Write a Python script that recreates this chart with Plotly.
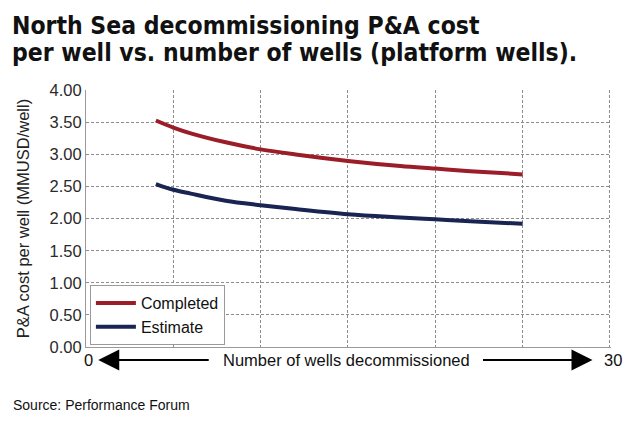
import plotly.graph_objects as go

# data
wells = [4, 5, 6, 8, 10, 12, 15, 18, 20, 22, 25]
completed = [3.53, 3.42, 3.33, 3.19, 3.08, 3.00, 2.90, 2.82, 2.78, 2.74, 2.69]
estimate = [2.54, 2.45, 2.39, 2.28, 2.21, 2.15, 2.07, 2.02, 1.99, 1.96, 1.92]

y_ticks = [0, 0.5, 1.0, 1.5, 2.0, 2.5, 3.0, 3.5, 4.0]
x_ticks = [0, 5, 10, 15, 20, 25, 30]

RED = '#9a1d27'
NAVY = '#1a2452'
FONT = 'Liberation Sans, Arial, sans-serif'
TITLE_FONT = 'DejaVu Sans Condensed, Liberation Sans Narrow, sans-serif'

# page is drawn with the default 8px body margin and only ~624px of the
# width is visible, so reference x positions are squeezed to fit that
OFF = 8
VIS = 624
S = VIS / 640
W, H = VIS - OFF, 407
# plot area in page pixels (used to place the free texts)
L, R, T, B = 88 * S, 627 * S, 90, 347


def px(x):
    return (x * S - L) / (R - L)


def py(y):
    return (B - y) / (B - T)


fig = go.Figure()

fig.add_trace(go.Scatter(
    x=wells, y=completed, mode='lines', name='Completed',
    line=dict(color=RED, width=4, shape='spline')
))
fig.add_trace(go.Scatter(
    x=wells, y=estimate, mode='lines', name='Estimate',
    line=dict(color=NAVY, width=4, shape='spline')
))

grid = dict(showgrid=True, gridcolor='#8c8c8c', griddash='3px,2px', gridwidth=1,
            showline=True, linecolor='#9a9a9a', linewidth=1, zeroline=False,
            ticks='', automargin=False)

# range a hair past 30 so the dashed gridline at 30 closes the right edge
fig.update_xaxes(range=[0, 30.06], tickvals=x_ticks, showticklabels=False, **grid)
fig.update_yaxes(
    range=[0, 4.005], tickvals=y_ticks, tickformat='.2f',
    tickfont=dict(family=FONT, size=16.5, color='#2a2a2a'),
    title=dict(text='P&A cost per well (MMUSD/well)', standoff=15,
               font=dict(family=FONT, size=16.5, color='#222222')),
    **grid
)

# axis labels and arrows under the plot
axis_font = dict(family=FONT, size=16.5, color='#111111')
fig.add_annotation(x=px(84), y=py(360), xref='paper', yref='paper', text='0',
                   xanchor='left', yanchor='middle', showarrow=False, font=axis_font)
fig.add_annotation(x=px(618), y=py(360), xref='paper', yref='paper', text='30',
                   xanchor='left', yanchor='middle', showarrow=False, font=axis_font)
fig.add_annotation(x=14.9, y=py(360), xref='x', yref='paper', text='Number of wells decommissioned',
                   xanchor='center', yanchor='middle', showarrow=False, font=axis_font)

fig.add_annotation(x=0.7, y=py(360), xref='x', yref='paper', text='', showarrow=True,
                   ax=112, ay=0, arrowhead=2, arrowsize=2.1, arrowwidth=2, arrowcolor='#000000')
fig.add_annotation(x=29.0, y=py(360), xref='x', yref='paper', text='', showarrow=True,
                   ax=-111, ay=0, arrowhead=2, arrowsize=2.1, arrowwidth=2, arrowcolor='#000000')

fig.add_annotation(x=px(11), y=py(405), xref='paper', yref='paper', text='Source: Performance Forum',
                   showarrow=False, xanchor='left', yanchor='middle',
                   font=dict(family=FONT, size=14, color='#111111'))

# two title lines placed separately for a tight line spacing
for yc, line in [(25, 'North Sea decommissioning P&A cost'),
                 (52, 'per well vs. number of wells (platform wells).')]:
    fig.add_annotation(x=px(10), y=py(yc), xref='paper', yref='paper',
                       text=f'<b>{line}</b>', showarrow=False,
                       xanchor='left', yanchor='middle', align='left',
                       font=dict(family=TITLE_FONT, size=24.5, color='#111111'))

fig.update_layout(
    width=W, height=H,
    margin=dict(l=L - OFF, r=W - (R - OFF), t=T - OFF, b=H - (B - OFF), autoexpand=False),
    paper_bgcolor='white', plot_bgcolor='white',
    legend=dict(
        x=px(92), y=py(345), xanchor='left', yanchor='bottom',
        bgcolor='white', bordercolor='#9a9a9a', borderwidth=1,
        font=dict(family=FONT, size=16, color='#111111'),
        itemwidth=40, tracegroupgap=0
    ),
    showlegend=True
)

fig.write_html("out.html")
